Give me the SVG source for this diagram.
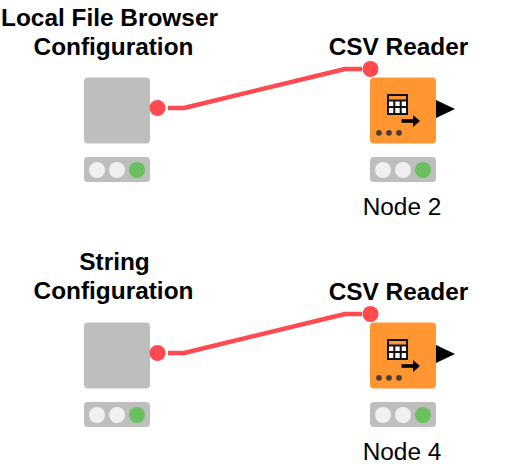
<svg xmlns="http://www.w3.org/2000/svg" width="512" height="468" viewBox="0 0 512 468">
<style>
text{font-family:"Liberation Sans",Arial,sans-serif;font-size:24.4px;fill:#000;text-anchor:middle}
.b{font-weight:700}
.gray{fill:#bdbfbd}
.tl{fill:#bdbfbd}
.off{fill:#f0f0f0}
.on{fill:#6abf5e}
.port{fill:#ff4b4f}
.orange{fill:#ff9632}
.conn{fill:none;stroke:#ff4b4f;stroke-width:4.500;stroke-linejoin:round}
</style>
<defs>
<g id="lights">
<rect class="tl" x="0" y="0" width="66" height="25" rx="4"/>
<circle class="off" cx="13" cy="13" r="8"/>
<circle class="off" cx="33" cy="13" r="8"/>
<circle class="on" cx="53" cy="13" r="8"/>
</g>
<g id="icon">
<rect x="388" y="95" width="19" height="19" fill="#fff" stroke="#111" stroke-width="2"/>
<rect x="389" y="96" width="17" height="4.500" fill="#ff9632"/>
<path d="M388 100.500H407M388 107H407M394.300 100.500V114M400.700 100.500V114" stroke="#111" stroke-width="2" fill="none"/>
<path d="M401.500 121H416" stroke="#000" stroke-width="3.600" fill="none"/>
<path d="M413 115L420 121L413 127Z" fill="#000"/>
<circle cx="379" cy="132.800" r="2.900" fill="#4a3f35"/>
<circle cx="389" cy="132.800" r="2.900" fill="#4a3f35"/>
<circle cx="399" cy="132.800" r="2.900" fill="#4a3f35"/>
</g>
</defs>
<g id="connectors">
<path class="conn" d="M168 108H184L345 69H362"/>
<path class="conn" d="M168 353H184L345 314H362"/>
</g>
<g id="node-local-file">
<text class="b" x="109.500" y="25.500">Local File Browser</text>
<text class="b" x="113.500" y="55">Configuration</text>
<rect class="gray" x="84" y="77.500" width="66" height="66" rx="4"/>
<circle class="port" cx="157.500" cy="108" r="8"/>
<use href="#lights" x="84" y="157"/>
</g>
<g id="node-csv-2">
<text class="b" x="398.500" y="55">CSV Reader</text>
<circle class="port" cx="370.500" cy="69" r="8"/>
<rect class="orange" x="370" y="77.500" width="66" height="66" rx="4"/>
<use href="#icon"/>
<path d="M436 100L455 109L436 118Z" fill="#000"/>
<use href="#lights" x="370" y="157"/>
<text x="402" y="215">Node 2</text>
</g>
<g id="node-string">
<text class="b" x="114.500" y="270">String</text>
<text class="b" x="113.500" y="299">Configuration</text>
<rect class="gray" x="84" y="322.500" width="66" height="66" rx="4"/>
<circle class="port" cx="157.500" cy="353" r="8"/>
<use href="#lights" x="84" y="402"/>
</g>
<g id="node-csv-4">
<text class="b" x="398.500" y="300">CSV Reader</text>
<circle class="port" cx="370.500" cy="314" r="8"/>
<rect class="orange" x="370" y="322.500" width="66" height="66" rx="4"/>
<use href="#icon" y="245"/>
<path d="M436 345L455 354L436 363Z" fill="#000"/>
<use href="#lights" x="370" y="402"/>
<text x="402" y="460">Node 4</text>
</g>
</svg>
